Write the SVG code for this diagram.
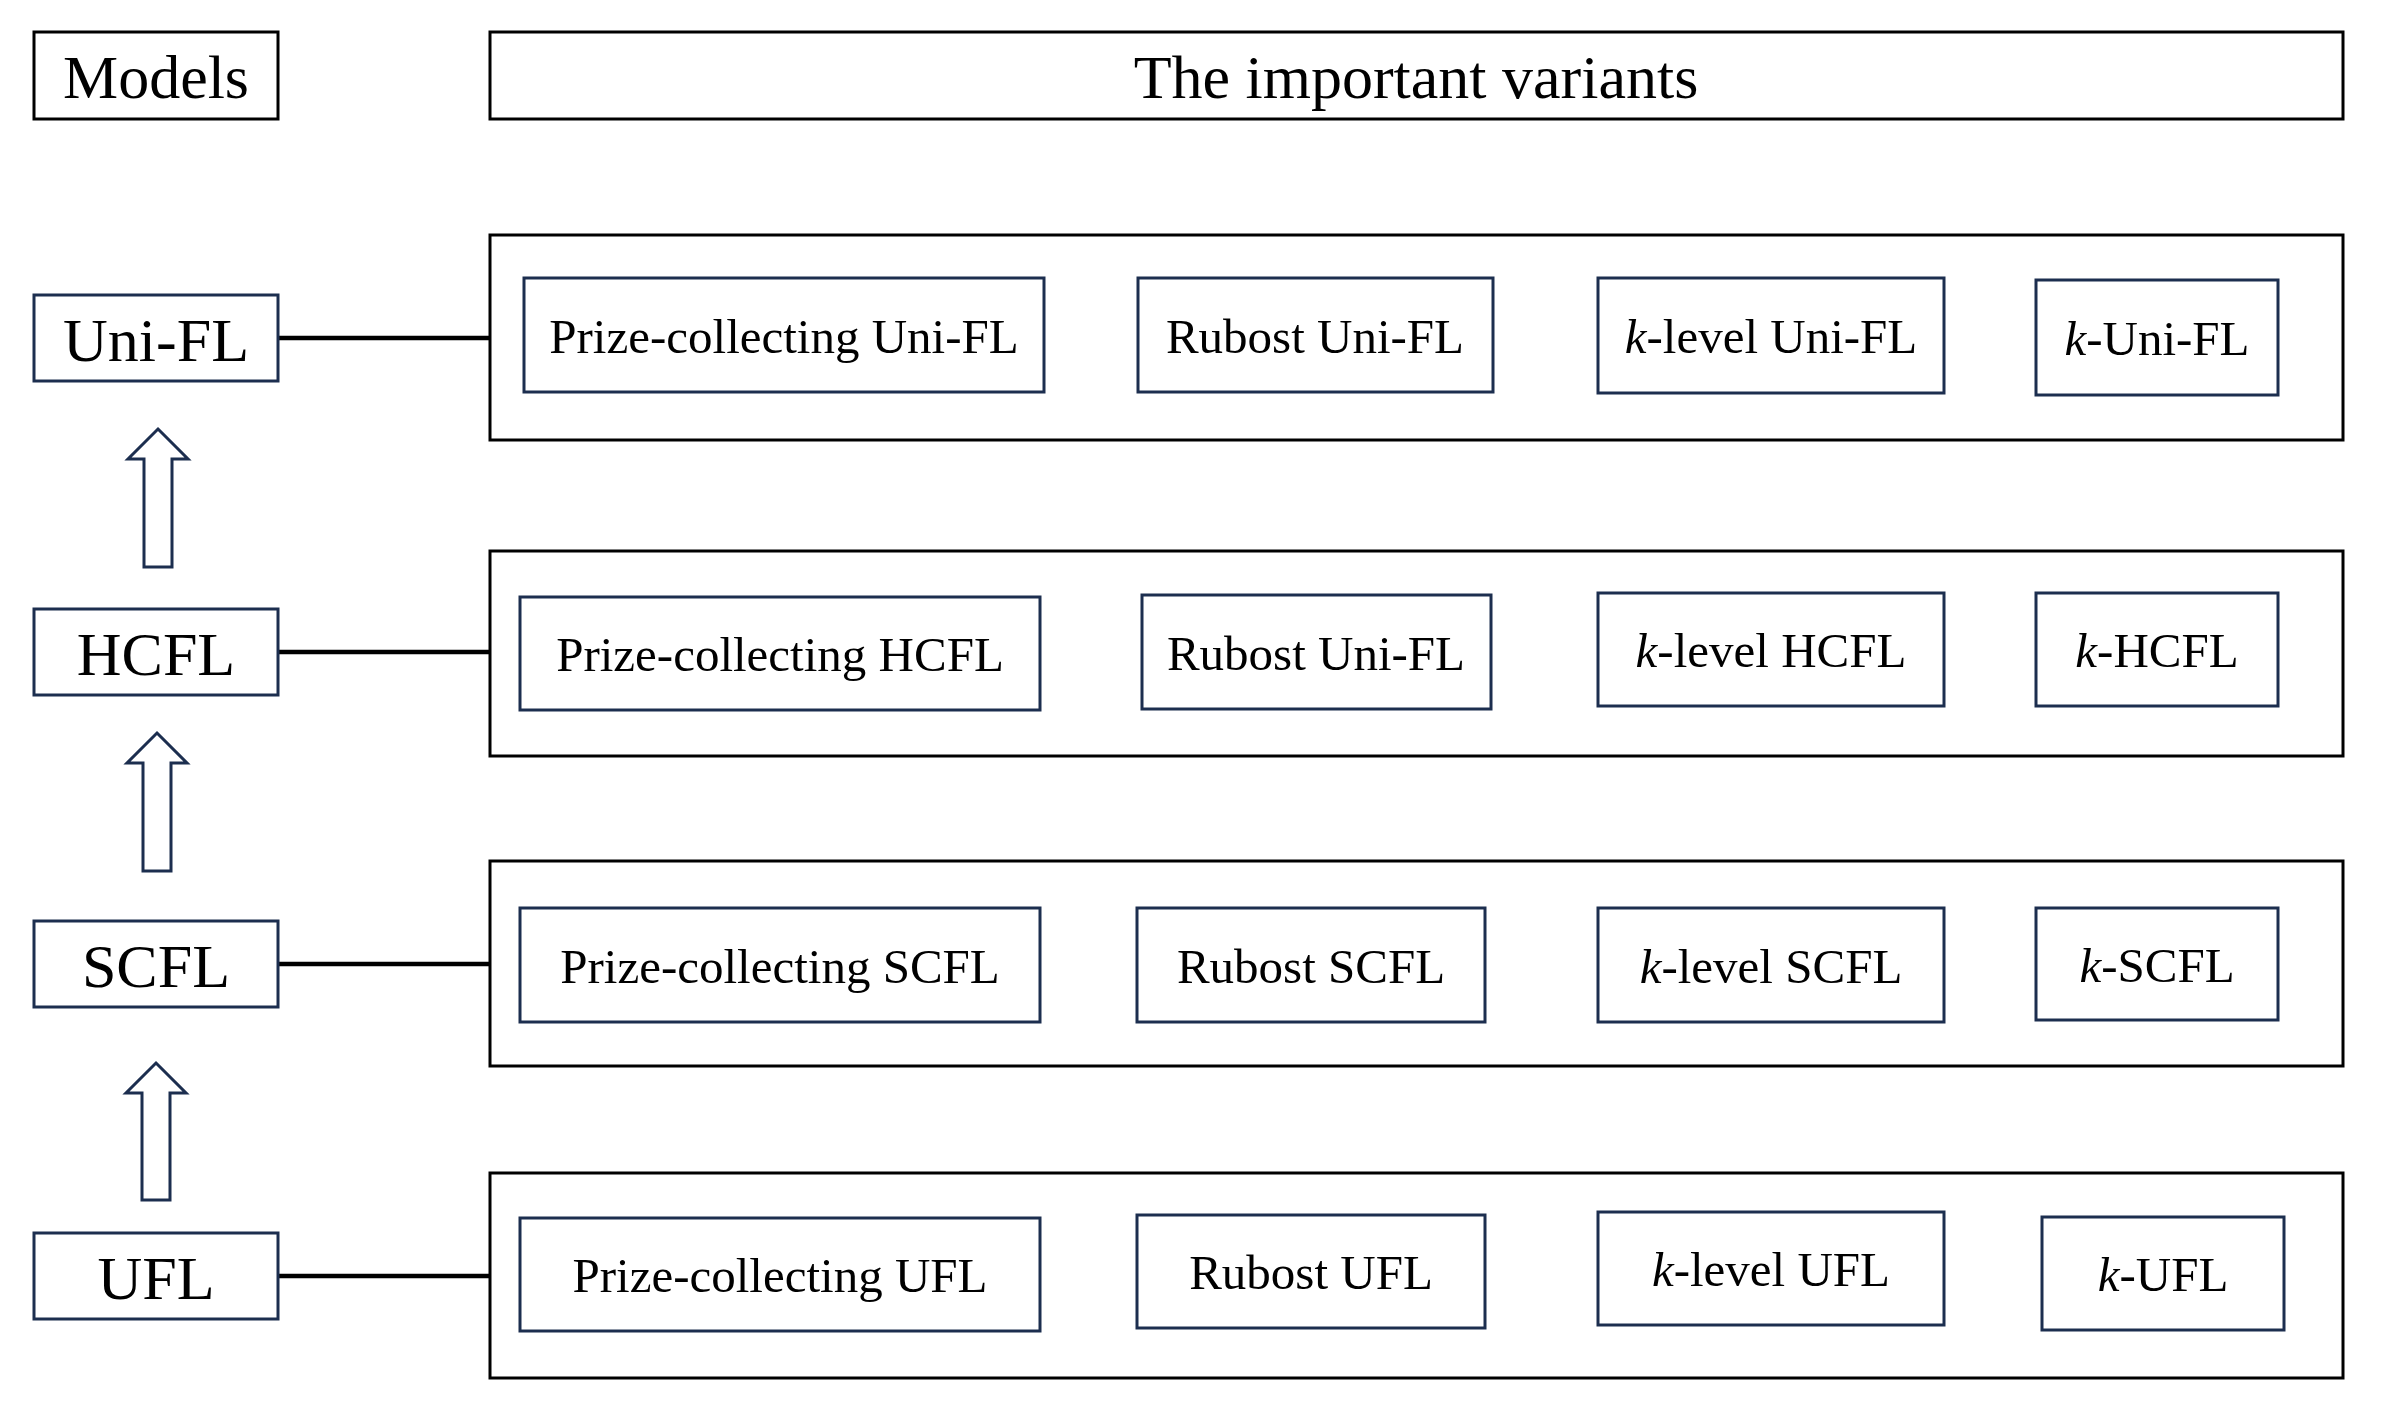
<svg xmlns="http://www.w3.org/2000/svg" width="2384" height="1424" viewBox="0 0 2384 1424">
<style>
.bg{fill:#ffffff}
.hdr{fill:#ffffff;stroke:#000000;stroke-width:3}
.cont{fill:#ffffff;stroke:#000000;stroke-width:3}
.model{fill:#ffffff;stroke:#1c2e4f;stroke-width:3}
.var{fill:#ffffff;stroke:#1c2e4f;stroke-width:3}
.arrow{fill:#ffffff;stroke:#1c2e4f;stroke-width:3;stroke-linejoin:miter}
.link{stroke:#000000;stroke-width:4.5;fill:none}
text{font-family:"Liberation Serif","Times New Roman",serif;fill:#000000;text-anchor:middle}
.big{font-size:62px}
.small{font-size:49px}
.it{font-style:italic}
</style>
<rect class="bg" x="0" y="0" width="2384" height="1424"/>

<g id="header-models">
<rect class="hdr" x="34" y="32" width="244" height="87"/>
<text class="big" x="156" y="98">Models</text>
</g>
<g id="header-variants">
<rect class="hdr" x="490" y="32" width="1853" height="87"/>
<text class="big" x="1416" y="98">The important variants</text>
</g>

<g id="connectors">
<line class="link" x1="278" y1="338" x2="490" y2="338"/>
<line class="link" x1="278" y1="652" x2="490" y2="652"/>
<line class="link" x1="278" y1="964" x2="490" y2="964"/>
<line class="link" x1="278" y1="1276" x2="490" y2="1276"/>
<polygon class="arrow" points="158,429 188,459 172,459 172,567 144,567 144,459 128,459"/>
<polygon class="arrow" points="157,733 187,763 171,763 171,871 143,871 143,763 127,763"/>
<polygon class="arrow" points="156,1063 186,1093 170,1093 170,1200 142,1200 142,1093 126,1093"/>
</g>

<g id="model-unifl">
<rect class="model" x="34" y="295" width="244" height="86"/>
<text class="big" x="156" y="361">Uni-FL</text>
</g>
<g id="model-hcfl">
<rect class="model" x="34" y="609" width="244" height="86"/>
<text class="big" x="156" y="675">HCFL</text>
</g>
<g id="model-scfl">
<rect class="model" x="34" y="921" width="244" height="86"/>
<text class="big" x="156" y="987">SCFL</text>
</g>
<g id="model-ufl">
<rect class="model" x="34" y="1233" width="244" height="86"/>
<text class="big" x="156" y="1299">UFL</text>
</g>

<g id="row-unifl">
<rect class="cont" x="490" y="235" width="1853" height="205"/>
<g id="v-prize-unifl"><rect class="var" x="524" y="278" width="520" height="114"/><text class="small" x="784" y="353">Prize-collecting Uni-FL</text></g>
<g id="v-robust-unifl"><rect class="var" x="1138" y="278" width="355" height="114"/><text class="small" x="1315" y="353">Rubost Uni-FL</text></g>
<g id="v-klevel-unifl"><rect class="var" x="1598" y="278" width="346" height="115"/><text class="small" x="1771" y="353"><tspan class="it">k</tspan>-level Uni-FL</text></g>
<g id="v-k-unifl"><rect class="var" x="2036" y="280" width="242" height="115"/><text class="small" x="2157" y="355"><tspan class="it">k</tspan>-Uni-FL</text></g>
</g>

<g id="row-hcfl">
<rect class="cont" x="490" y="551" width="1853" height="205"/>
<g id="v-prize-hcfl"><rect class="var" x="520" y="597" width="520" height="113"/><text class="small" x="780" y="671">Prize-collecting HCFL</text></g>
<g id="v-robust-hcfl"><rect class="var" x="1142" y="595" width="349" height="114"/><text class="small" x="1316" y="670">Rubost Uni-FL</text></g>
<g id="v-klevel-hcfl"><rect class="var" x="1598" y="593" width="346" height="113"/><text class="small" x="1771" y="667"><tspan class="it">k</tspan>-level HCFL</text></g>
<g id="v-k-hcfl"><rect class="var" x="2036" y="593" width="242" height="113"/><text class="small" x="2157" y="667"><tspan class="it">k</tspan>-HCFL</text></g>
</g>

<g id="row-scfl">
<rect class="cont" x="490" y="861" width="1853" height="205"/>
<g id="v-prize-scfl"><rect class="var" x="520" y="908" width="520" height="114"/><text class="small" x="780" y="983">Prize-collecting SCFL</text></g>
<g id="v-robust-scfl"><rect class="var" x="1137" y="908" width="348" height="114"/><text class="small" x="1311" y="983">Rubost SCFL</text></g>
<g id="v-klevel-scfl"><rect class="var" x="1598" y="908" width="346" height="114"/><text class="small" x="1771" y="983"><tspan class="it">k</tspan>-level SCFL</text></g>
<g id="v-k-scfl"><rect class="var" x="2036" y="908" width="242" height="112"/><text class="small" x="2157" y="982"><tspan class="it">k</tspan>-SCFL</text></g>
</g>

<g id="row-ufl">
<rect class="cont" x="490" y="1173" width="1853" height="205"/>
<g id="v-prize-ufl"><rect class="var" x="520" y="1218" width="520" height="113"/><text class="small" x="780" y="1292">Prize-collecting UFL</text></g>
<g id="v-robust-ufl"><rect class="var" x="1137" y="1215" width="348" height="113"/><text class="small" x="1311" y="1289">Rubost UFL</text></g>
<g id="v-klevel-ufl"><rect class="var" x="1598" y="1212" width="346" height="113"/><text class="small" x="1771" y="1286"><tspan class="it">k</tspan>-level UFL</text></g>
<g id="v-k-ufl"><rect class="var" x="2042" y="1217" width="242" height="113"/><text class="small" x="2163" y="1291"><tspan class="it">k</tspan>-UFL</text></g>
</g>
</svg>
